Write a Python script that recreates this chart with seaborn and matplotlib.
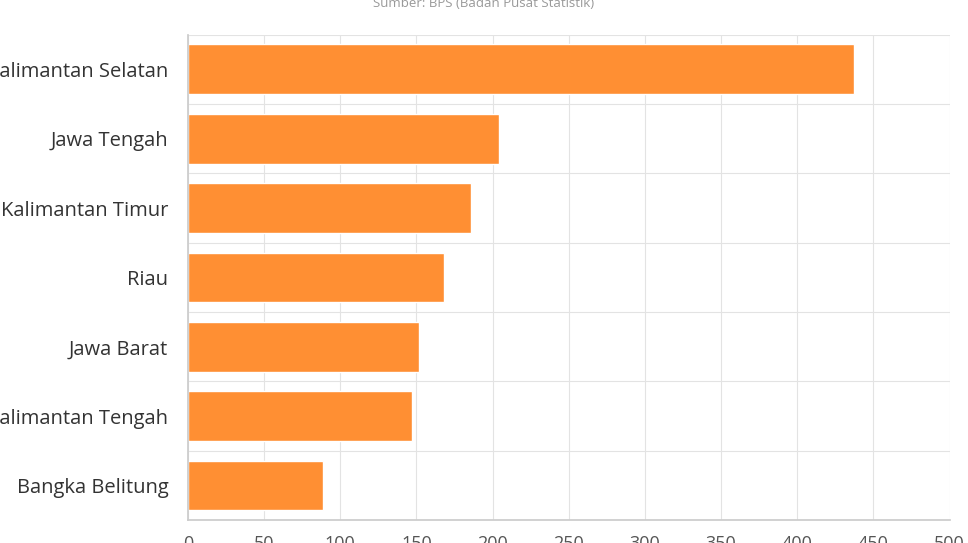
import matplotlib
matplotlib.use("Agg")
import matplotlib.pyplot as plt
import seaborn as sns
import pandas as pd
import numpy as np

provinces = ["Kalimantan Selatan", "Jawa Tengah", "Kalimantan Timur", "Riau",
             "Jawa Barat", "Kalimantan Tengah", "Bangka Belitung"]
values = [437.5, 204, 186, 168, 152, 147, 88.5]
xticks = [0, 50, 100, 150, 200, 250, 300, 350, 400, 450, 500]

sns.set_theme(style="white")
plt.rcParams["font.family"] = ["Open Sans", "DejaVu Sans"]

df = pd.DataFrame({"province": provinces, "value": values})

fig = plt.figure(figsize=(9.68, 5.43), dpi=100)
ax = fig.add_axes([0.194, 0.042, 0.787, 0.894])
sns.barplot(data=df, y="province", x="value", color="#ff8f33", saturation=1,
            width=0.72, ax=ax)
ax.set_xlim(0, 500)
ax.set_ylim(6.5, -0.5)
ax.set_xticks(xticks)
ax.set_yticks(np.arange(-0.5, 7, 1), minor=True)
ax.grid(True, axis="x", color="#e3e3e3", lw=0.8)
ax.grid(True, axis="y", which="minor", color="#e3e3e3", lw=0.8)
ax.set_axisbelow(True)
for s in ["top", "right"]:
    ax.spines[s].set_visible(False)
ax.spines["left"].set_color("#cccccc")
ax.spines["bottom"].set_color("#cccccc")
ax.tick_params(axis="y", which="major", length=0, labelsize=14.5, pad=14, labelcolor="#333333")
ax.tick_params(axis="y", which="minor", length=0)
ax.tick_params(axis="x", length=5, color="#cccccc", labelsize=13, pad=6, labelcolor="#555555")
ax.set_xlabel("")
ax.set_ylabel("")
fig.text(0.5, 0.993, "Sumber: BPS (Badan Pusat Statistik)", ha="center", va="center",
         fontsize=9.5, color="#999999")
fig.savefig("out.png", dpi=100)
